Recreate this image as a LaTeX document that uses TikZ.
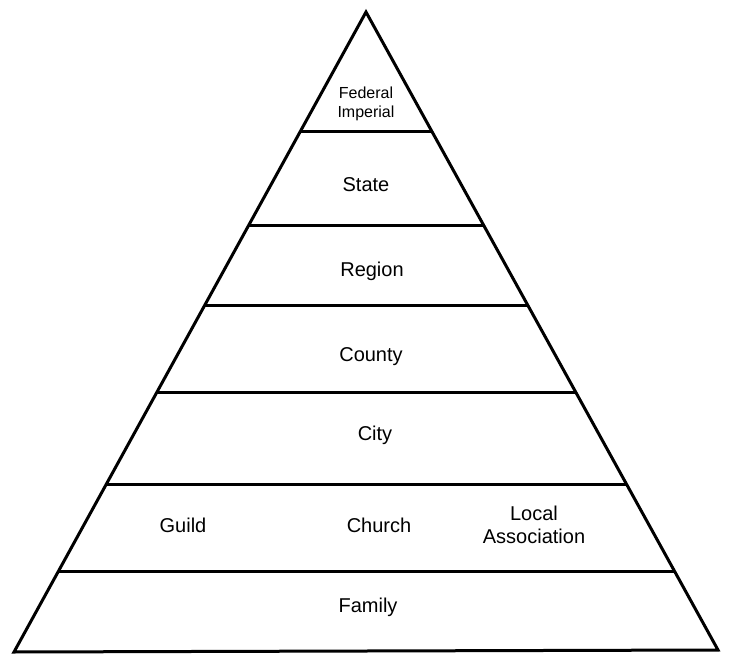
\documentclass[tikz,border=0pt]{standalone}
\usepackage{fontspec}
\setmainfont{Liberation Sans}
\begin{document}
\begin{tikzpicture}[x=1pt,y=-1pt,line width=3pt,
  lbl/.style={font=\fontsize{20}{23}\selectfont,align=center,inner sep=0pt},
  sm/.style={font=\fontsize{16}{19}\selectfont,align=center,inner sep=0pt}]
\useasboundingbox (0,0) rectangle (739,668);
\coordinate (apex) at (366,12);
\coordinate (bl) at (14,652);
\coordinate (br) at (718,650);
\draw[line join=miter] (bl) -- (apex) -- (br) -- cycle;
\foreach \y in {132,226,306,392,484,571}{
  \draw ({366-0.55*(\y-12)},\y) -- ({366+0.5517*(\y-12)},\y);
}
\node[sm] (fed) at (366,104) {Federal\\Imperial};
\node[lbl] (state) at (366,185) {State};
\node[lbl] (region) at (372,271) {Region};
\node[lbl] (county) at (371,357) {County};
\node[lbl] (city) at (375,435) {City};
\node[lbl] (guild) at (183,525) {Guild};
\node[lbl] (church) at (379,525) {Church};
\node[lbl] (local) at (534,525) {Local\\Association};
\node[lbl] (family) at (368,607) {Family};
\end{tikzpicture}
\end{document}
